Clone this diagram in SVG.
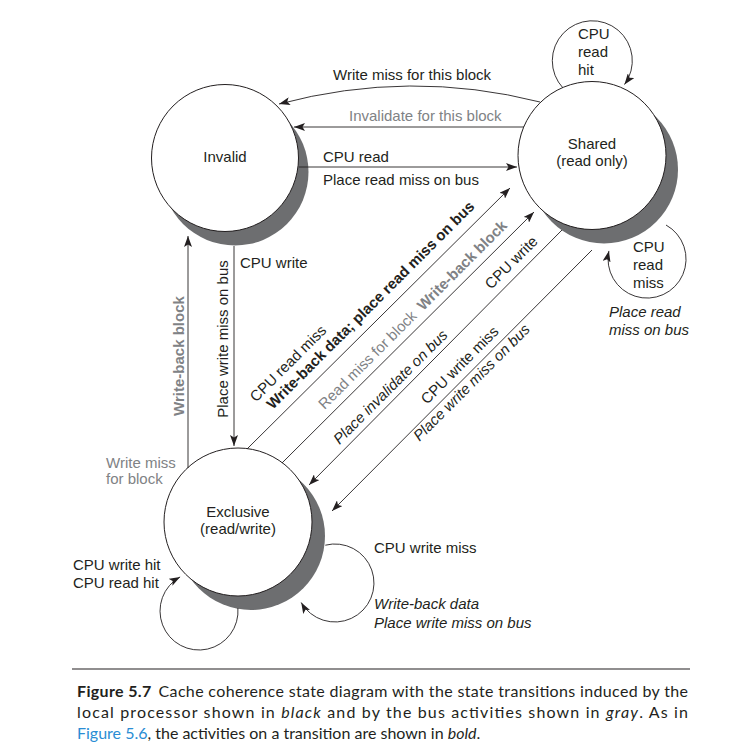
<svg xmlns="http://www.w3.org/2000/svg" width="732" height="756" viewBox="0 0 732 756">
<style>
text{font-family:"Liberation Sans",Arial,sans-serif;font-size:15px;fill:#231f20}
.g{fill:#808285}
.b{font-weight:bold}
.i{font-style:italic}
.sh{fill:#6d6e70}
.st{fill:#fff;stroke:#231f20;stroke-width:1}
.c{fill:none;stroke:#231f20;stroke-width:0.9;marker-end:url(#arr)}
.cap{font-family:Lato,"Open Sans",sans-serif;font-size:16px}
</style>
<defs>
<marker id="arr" markerUnits="userSpaceOnUse" markerWidth="12" markerHeight="8" refX="11" refY="4" orient="auto">
<path d="M0,0 L11,4 L0,8 L2.5,4 z" fill="#231f20"/>
</marker>
</defs>
<rect width="732" height="756" fill="#fff"/>

<g id="invalid">
<circle class="sh" cx="235" cy="172" r="73.5"/>
<circle class="st" cx="225" cy="158" r="73.5"/>
<text x="225" y="162" text-anchor="middle">Invalid</text>
</g>
<g id="shared">
<circle class="sh" cx="604" cy="169.5" r="74"/>
<circle class="st" cx="592" cy="155.5" r="74"/>
<text x="592" y="149" text-anchor="middle">Shared</text>
<text x="592" y="166" text-anchor="middle">(read only)</text>
</g>
<g id="exclusive">
<circle class="sh" cx="251" cy="536" r="74"/>
<circle class="st" cx="238" cy="522" r="74"/>
<text x="238" y="517" text-anchor="middle">Exclusive</text>
<text x="238" y="534" text-anchor="middle">(read/write)</text>
</g>

<g id="connectors">
<path class="c" d="M540,102 Q410,69 279,104"/>
<path class="c" d="M524,127 L294,127"/>
<path class="c" d="M299,167 L517,167"/>
<path class="c" d="M188,468 L188,236"/>
<path class="c" d="M234,246 L234,446"/>
<path class="c" d="M247,449 L510,188"/>
<path class="c" d="M282,463 L534,212"/>
<path class="c" d="M562,230 L309,485"/>
<path class="c" d="M592,250 L332,511"/>
<path class="c" d="M563,88 A40,40 0 1 1 624.5,84.5"/>
<path class="c" d="M666,225 A39,39 0 1 1 608.9,250.9"/>
<path class="c" d="M237.9,608 A39,39 0 1 1 180.1,576.9"/>
<path class="c" d="M325.3,545.2 A39,39 0 1 1 301.2,602.5"/>
</g>

<g id="labels">
<text x="333" y="80">Write miss for this block</text>
<text class="g" x="349" y="121">Invalidate for this block</text>
<text x="323" y="162">CPU read</text>
<text x="323" y="185">Place read miss on bus</text>
<text x="240" y="268">CPU write</text>
<text transform="translate(228,339) rotate(-90)" text-anchor="middle">Place write miss on bus</text>
<text class="g b" transform="translate(184,356) rotate(-90)" text-anchor="middle">Write-back block</text>
<text class="g" x="106" y="468">Write miss</text>
<text class="g" x="106" y="484">for block</text>
<text transform="translate(256,402.7) rotate(-45)">CPU read miss</text>
<text class="b" transform="translate(272.8,410) rotate(-45)">Write-back data; place read miss on bus</text>
<text transform="translate(324.5,410) rotate(-45)"><tspan class="g">Read miss for block</tspan><tspan class="g b" dx="8">Write-back block</tspan></text>
<text transform="translate(491,290) rotate(-45)">CPU write</text>
<text class="i" transform="translate(339.5,445) rotate(-45)">Place invalidate on bus</text>
<text transform="translate(427,405) rotate(-45)">CPU write miss</text>
<text class="i" transform="translate(419.5,441.7) rotate(-45)">Place write miss on bus</text>
<text x="578" y="39">CPU</text>
<text x="578" y="57">read</text>
<text x="578" y="75">hit</text>
<text x="633" y="252">CPU</text>
<text x="633" y="270">read</text>
<text x="633" y="288">miss</text>
<text class="i" x="609" y="317">Place read</text>
<text class="i" x="609" y="335">miss on bus</text>
<text x="73" y="570">CPU write hit</text>
<text x="73" y="588">CPU read hit</text>
<text x="374" y="553">CPU write miss</text>
<text class="i" x="374" y="609">Write-back data</text>
<text class="i" x="374" y="628">Place write miss on bus</text>
</g>

<g id="caption">
<line x1="72" y1="669" x2="690" y2="669" stroke="#231f20" stroke-width="1.2"/>
<text class="cap" x="77" y="697" textLength="611" lengthAdjust="spacing"><tspan font-weight="bold">Figure 5.7</tspan><tspan dx="7">Cache coherence state diagram with the state transitions induced by the</tspan></text>
<text class="cap" x="77" y="718" textLength="611" lengthAdjust="spacing">local processor shown in <tspan font-style="italic">black</tspan> and by the bus activities shown in <tspan font-style="italic">gray</tspan>. As in</text>
<text class="cap" x="77" y="739"><tspan fill="#2a8dd4">Figure 5.6</tspan>, the activities on a transition are shown in <tspan font-style="italic">bold</tspan>.</text>
</g>
</svg>
